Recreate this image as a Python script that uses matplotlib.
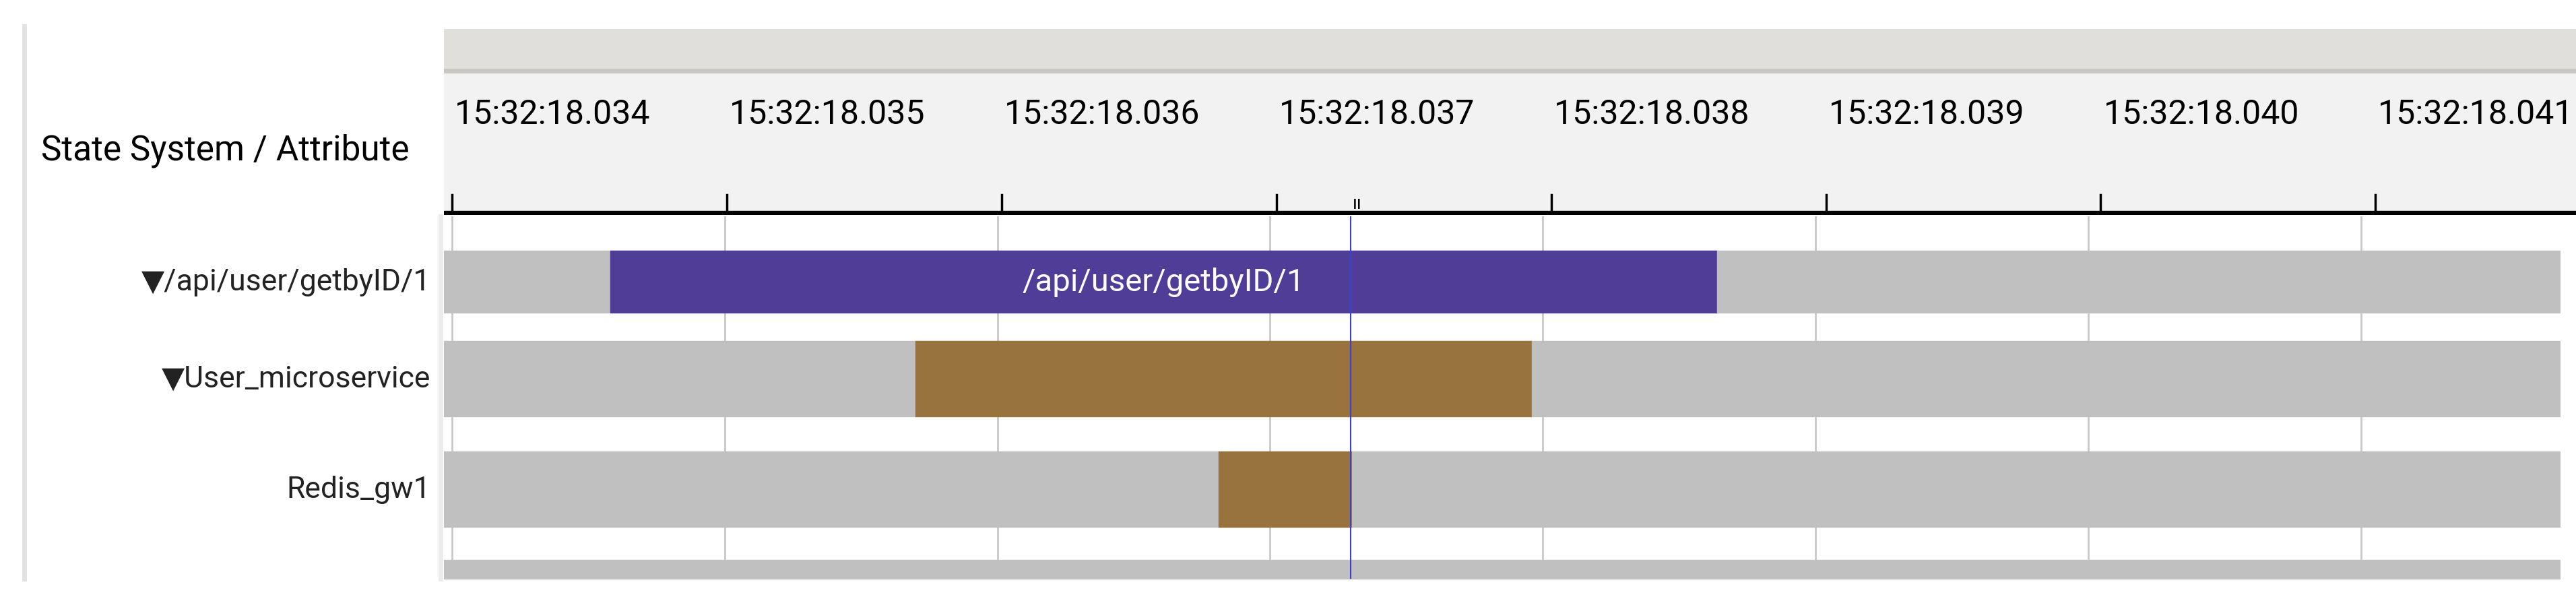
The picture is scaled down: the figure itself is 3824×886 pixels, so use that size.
import matplotlib
matplotlib.use("Agg")
import matplotlib.pyplot as plt

# =============================
# DATA (ms after 15:32:18.034)
# =============================
tick_labels = ["15:32:18.034", "15:32:18.035", "15:32:18.036", "15:32:18.037",
               "15:32:18.038", "15:32:18.039", "15:32:18.040", "15:32:18.041"]
tick_pos = [0, 1, 2, 3, 4, 5, 6, 7]
row_names = ["\u25BC/api/user/getbyID/1", "\u25BCUser_microservice", "Redis_gw1"]
state_start = [0.58, 1.70, 2.81]
state_end = [4.64, 3.96, 3.30]
state_colors = ["#503d98", "#98733d", "#98733d"]
state_text = ["/api/user/getbyID/1", "", ""]
cursor_ms = 3.295
x_min, x_max = -0.03, 7.73

W, H = 3824, 887
plt.rcParams['font.family'] = ["Liberation Sans Narrow", "Roboto", "DejaVu Sans"]

fig = plt.figure(figsize=(W / 100, H / 100), dpi=100)
fig.patch.set_facecolor("white")

def fx(x):
    return x / W

def fy(y):
    return 1 - y / H

# =============================
# TOP GREY BAR + HEADER
# =============================
top = fig.add_axes([fx(659), fy(110), fx(3824 - 659), (110 - 44) / H])
top.set_facecolor("#e1dfdc")
top.set_xticks([]); top.set_yticks([])
for s in top.spines.values():
    s.set_visible(False)
top.axhline(0, color="#cac7c2", lw=10)

hdr = fig.add_axes([fx(659), fy(320), fx(3824 - 659), (320 - 110) / H])
hdr.set_facecolor("#f2f2f2")
hdr.set_xlim(x_min, x_max)
hdr.set_ylim(0, 210)
hdr.set_xticks([]); hdr.set_yticks([])
for s in hdr.spines.values():
    s.set_visible(False)
for t, lab in zip(tick_pos, tick_labels):
    hdr.plot([t, t], [0, 30], color="black", lw=2.5)
    hdr.text(t + 0.01, 150, lab, fontsize=36, va="center", ha="left")
hdr.text(cursor_ms, 18, "ıı", fontsize=20, ha="center", va="center")
hdr.axhline(2, color="black", lw=6)

# =============================
# STATE ROWS
# =============================
ax = fig.add_axes([fx(659), fy(860), fx(3800 - 659), (860 - 322) / H])
ax.set_xlim(x_min, x_max)
ax.set_ylim(538, 0)
ax.set_xticks([]); ax.set_yticks([])
for s in ax.spines.values():
    s.set_visible(False)
for t in tick_pos:
    ax.axvline(t, color="#c8c8c8", lw=2, zorder=0)

row_top = [51, 185, 349]
row_h = [92, 112, 112]
for i in range(len(row_names)):
    y0 = row_top[i]
    ax.broken_barh([(x_min, state_start[i] - x_min)], (y0, row_h[i]), color="#c0c0c0", zorder=2)
    ax.broken_barh([(state_start[i], state_end[i] - state_start[i])], (y0, row_h[i]),
                   color=state_colors[i], zorder=2)
    ax.broken_barh([(state_end[i], x_max - state_end[i])], (y0, row_h[i]), color="#c0c0c0", zorder=2)
    if state_text[i]:
        ax.text((state_start[i] + state_end[i]) / 2, y0 + row_h[i] / 2, state_text[i],
                color="white", fontsize=34, ha="center", va="center", zorder=3)
    fig.text(fx(639), fy(322 + y0 + row_h[i] / 2), row_names[i], fontsize=32,
             ha="right", va="center", color="#222222")
ax.broken_barh([(x_min, x_max - x_min)], (510, 40), color="#c0c0c0", zorder=2)
ax.axvline(cursor_ms, color="#4040d0", lw=1.5, zorder=4)

fig.text(fx(61), fy(224), "State System / Attribute", fontsize=37, ha="left", va="center")
fig.add_artist(plt.Line2D([fx(36), fx(36)], [fy(40), fy(860)], color="#e2e2e2", lw=5))
fig.add_artist(plt.Line2D([fx(654), fx(654)], [fy(322), fy(860)], color="#ececec", lw=5))

fig.savefig("out.png", dpi=100)
